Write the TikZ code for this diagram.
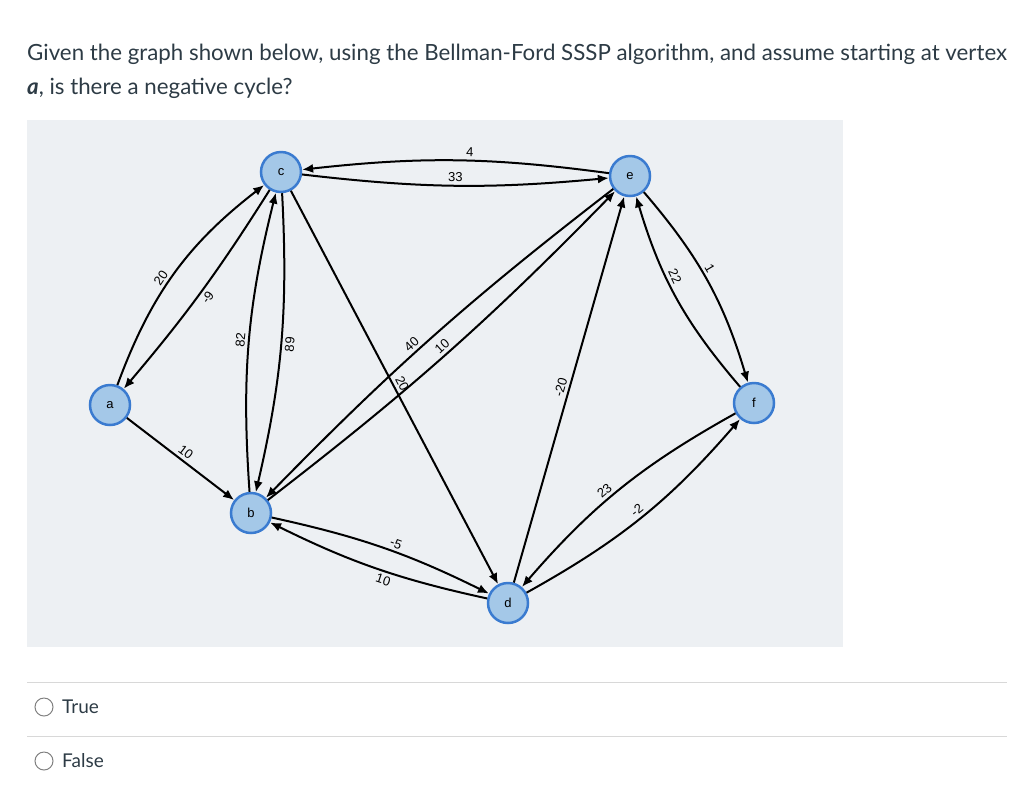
\documentclass[tikz,border=0pt]{standalone}
\usepackage{fontspec}
\setmainfont{Lato}
\setsansfont{Liberation Sans}
\usetikzlibrary{arrows.meta}
\definecolor{panel}{HTML}{EDF0F3}
\definecolor{vfill}{HTML}{A4C8E8}
\definecolor{vdraw}{HTML}{3A7BD0}
\definecolor{rule}{HTML}{D8D8D8}
\definecolor{qtext}{HTML}{2D3B45}
\begin{document}
\begin{tikzpicture}[x=1pt,y=-1pt,
  vertex/.style={circle,fill=vfill,draw=vdraw,line width=2.5pt,minimum size=40pt,inner sep=0pt,font=\sffamily\fontsize{13}{13}\selectfont},
  edge/.style={-{Latex[length=11pt,width=9pt]},line width=2pt,black},
  wl/.style={sloped,font=\sffamily\fontsize{13}{13}\selectfont,inner sep=3pt},
  qt/.style={anchor=base west,inner sep=0pt,text=qtext,font=\fontsize{22.3}{26}\selectfont}]
\useasboundingbox (0,0) rectangle (1024,796);
\fill[panel] (27,120) rectangle (843,647);
\node[qt] (q1) at (27,60) {Given the graph shown below, using the Bellman-Ford SSSP algorithm, and assume starting at vertex};
\node[qt] (q2) at (27,94) {\textbf{\textit{a}}, is there a negative cycle?};
\node[vertex] (a) at (110,405) {a};
\node[vertex] (c) at (281,172) {c};
\node[vertex] (e) at (630,176) {e};
\node[vertex] (f) at (754,403) {f};
\node[vertex] (b) at (251,513) {b};
\node[vertex] (d) at (508,603) {d};
\draw[edge] (a) to[bend left=16] node[wl,above,pos=0.45] {20} (c);
\draw[edge] (c) to[bend left=4] node[wl,below,pos=0.5] {-9} (a);
\draw[edge] (a) -- node[wl,above,pos=0.5] {10} (b);
\draw[edge] (b) to[bend left=9] node[wl,above,pos=0.5] {82} (c);
\draw[edge] (c) to[bend left=8] node[wl,below,pos=0.5] {89} (b);
\draw[edge] (e) to[bend right=7] node[wl,above,pos=0.45] {4} (c);
\draw[edge] (c) to[bend right=6] node[wl,above,pos=0.5] {33} (e);
\draw[edge] (c) -- node[wl,above,pos=0.5] {20} (d);
\draw[edge] (e) to[bend right=4] node[wl,above,pos=0.55] {40} (b);
\draw[edge] (b) to[bend right=4] node[wl,above,pos=0.5] {10} (e);
\draw[edge] (b) to[bend left=7] node[wl,above,pos=0.55] {-5} (d);
\draw[edge] (d) to[bend left=7] node[wl,below,pos=0.45] {10} (b);
\draw[edge] (d) -- node[wl,above,pos=0.5] {-20} (e);
\draw[edge] (e) to[bend left=12] node[wl,above,pos=0.45] {1} (f);
\draw[edge] (f) to[bend left=12] node[wl,above,pos=0.6] {22} (e);
\draw[edge] (f) to[bend right=10] node[wl,above,pos=0.55] {23} (d);
\draw[edge] (d) to[bend right=10] node[wl,above,pos=0.5] {-2} (f);
\draw[rule,line width=1pt] (27,682) coordinate (r1a) -- (1007,682) coordinate (r1b);
\draw[rule,line width=1pt] (27,736) coordinate (r2a) -- (1007,736) coordinate (r2b);
\node[circle,draw=gray,line width=1pt,minimum size=18pt,inner sep=0pt] (o1) at (44,707) {};
\node[circle,draw=gray,line width=1pt,minimum size=18pt,inner sep=0pt] (o2) at (44,761) {};
\node[anchor=west,inner sep=0pt,text=qtext,font=\fontsize{19}{21}\selectfont] (t1) at (62,707) {True};
\node[anchor=west,inner sep=0pt,text=qtext,font=\fontsize{19}{21}\selectfont] (t2) at (62,761) {False};
\end{tikzpicture}
\end{document}
